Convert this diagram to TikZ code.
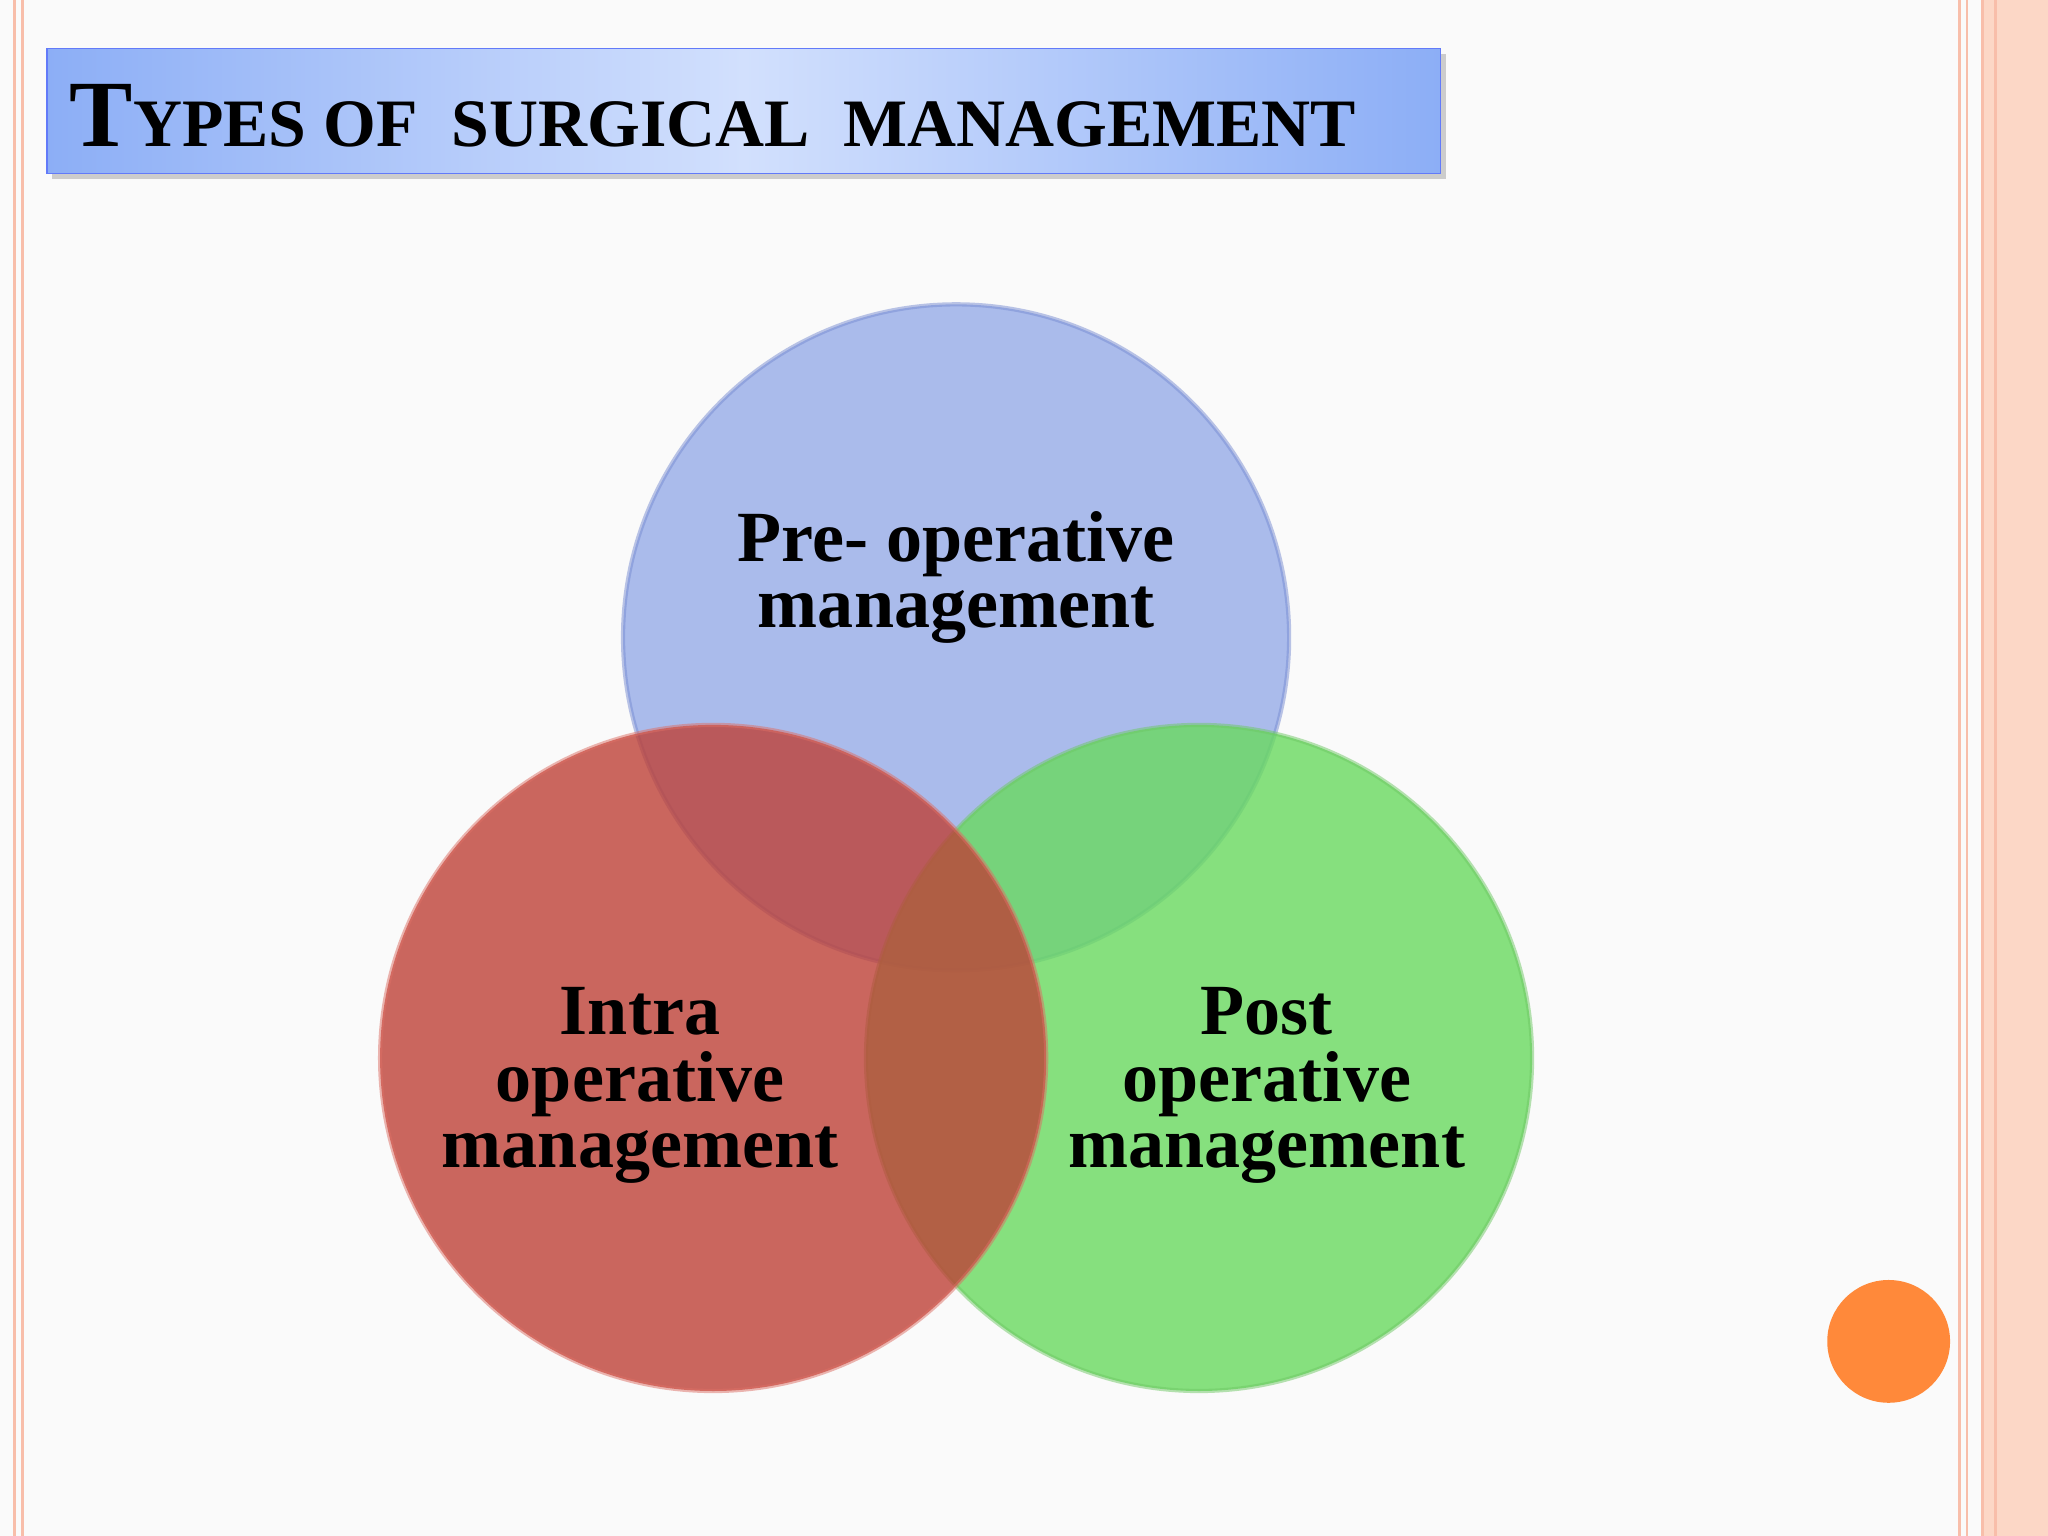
\documentclass[tikz,border=0pt]{standalone}
\usepackage{fontspec}
\setmainfont{Liberation Serif}
\definecolor{salmon}{RGB}{248,190,170}
\definecolor{peach}{RGB}{252,215,198}
\definecolor{tedge}{RGB}{140,174,246}
\definecolor{tmid}{RGB}{210,224,253}
\begin{document}
\begin{tikzpicture}[x=0.013061cm,y=-0.013061cm,
  venn/.style={circle,minimum size=6.661cm,inner sep=0pt,fill opacity=0.8,text opacity=1,draw opacity=0.5,line width=1.2pt},
  lbl/.style={align=center,font=\bfseries\fontsize{20.5}{18.8}\selectfont},
  stripe/.style={draw=salmon,line width=0.8pt}]
\useasboundingbox (0,0) rectangle (1568,1176);
\fill[black!2!white] (0,0) rectangle (1568,1176);
% borders
\draw[stripe] (11,0)--(11,1176);
\draw[stripe] (17,0)--(17,1176);
\fill[peach] (1518,0) rectangle (1568,1176);
\draw[stripe] (1500,0)--(1500,1176);
\draw[stripe] (1506,0)--(1506,1176);
\draw[stripe] (1518,0)--(1518,1176);
\draw[stripe] (1528,0)--(1528,1176);
% title
\fill[black!20] (40,41) rectangle (1107,137);
\shade[left color=tedge,right color=tedge,middle color=tmid,shading angle=90,draw=tedge!70!blue]
  (36,37) rectangle (1103,133);
\node[anchor=west,inner sep=0pt] (title) at (53,89)
  {\bfseries\fontsize{27}{30}\selectfont T\fontsize{19.3}{24}\selectfont YPES OF\ \ SURGICAL\ \ MANAGEMENT};
% circles
\node[venn,fill={rgb,255:red,150;green,172;blue,232},draw={rgb,255:red,120;green,140;blue,210}] (pre) at (732,488) {};
\node[venn,fill={rgb,255:red,105;green,218;blue,95},draw={rgb,255:red,110;green,200;blue,100}] (post) at (918,810) {};
\node[venn,fill={rgb,255:red,190;green,65;blue,55},draw={rgb,255:red,220;green,110;blue,100}] (intra) at (546,810) {};
\node[lbl] (tpre) at (732,442) {Pre- operative\\management};
\node[lbl] (tintra) at (490,831) {Intra\\operative\\management};
\node[lbl] (tpost) at (970,831) {Post\\operative\\management};
% orange dot
\node[circle,fill={rgb,255:red,255;green,137;blue,58},minimum size=1.228cm,inner sep=0pt] (dot) at (1446,1027) {};
\end{tikzpicture}
\end{document}
